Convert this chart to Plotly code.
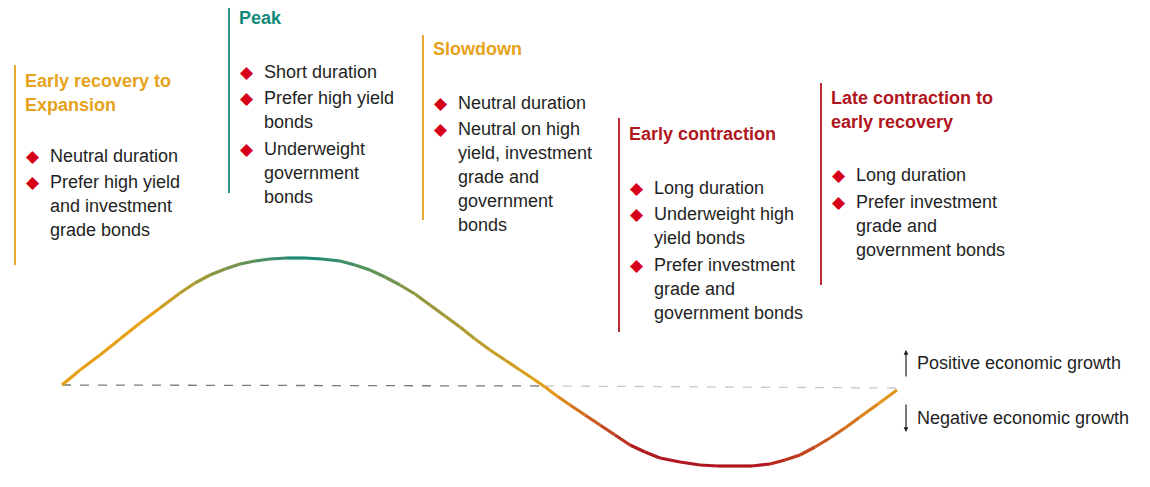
import plotly.graph_objects as go

ORANGE = "#E6A21A"
TEAL = "#11897A"
RED = "#B0161E"
DIAMOND = "#D7001A"
TXT = "#1F1F1F"

# curve (pixel coords)
curve_x = [62, 80, 100, 120, 140, 160, 180, 195, 210, 225, 240, 255, 270, 287, 305, 322, 340, 355, 370,
           385, 400, 415, 430, 445, 460, 475, 490, 505, 520, 532, 545,
           557, 570, 585, 600, 615, 630, 645, 660, 680, 700, 718, 735, 752, 770, 785, 800, 815, 830, 845, 860, 878, 897]
curve_y = [385, 370, 355, 339, 323, 308, 293, 283, 275, 269, 264, 261, 259, 258, 258, 259, 261, 265, 270,
           277, 285, 294, 305, 316, 327, 339, 350, 360, 370, 378, 387,
           396, 405, 415, 425, 435, 445, 452, 458, 462, 465, 466, 466, 466, 464, 460, 455, 447, 438, 428, 417, 404, 390]

# phase blocks
phases = [
    dict(title=["Early recovery to", "Expansion"], color=ORANGE, x=15, y0=65, y1=265, ty=[81, 105],
         bullets=[["Neutral duration"], ["Prefer high yield", "and investment", "grade bonds"]], by=[156, 182]),
    dict(title=["Peak"], color=TEAL, x=229, y0=5, y1=193, ty=[18],
         bullets=[["Short duration"], ["Prefer high yield", "bonds"], ["Underweight", "government", "bonds"]], by=[72, 98, 149]),
    dict(title=["Slowdown"], color=ORANGE, x=423, y0=35, y1=220, ty=[49],
         bullets=[["Neutral duration"], ["Neutral on high", "yield, investment", "grade and", "government", "bonds"]], by=[103, 129]),
    dict(title=["Early contraction"], color=RED, x=619, y0=118, y1=332, ty=[134],
         bullets=[["Long duration"], ["Underweight high", "yield bonds"], ["Prefer investment", "grade and", "government bonds"]], by=[188, 214, 265]),
    dict(title=["Late contraction to", "early recovery"], color=RED, x=821, y0=83, y1=285, ty=[98, 122],
         bullets=[["Long duration"], ["Prefer investment", "grade and", "government bonds"]], by=[175, 202]),
]

def hexmix(c1, c2, t):
    a = [int(c1[i:i+2], 16) for i in (1, 3, 5)]
    b = [int(c2[i:i+2], 16) for i in (1, 3, 5)]
    return "#%02x%02x%02x" % tuple(round(a[k] + (b[k] - a[k]) * t) for k in range(3))

def curve_color(x):
    stops = [(62, ORANGE), (150, ORANGE), (305, TEAL), (420, hexmix(TEAL, ORANGE, 0.6)), (545, ORANGE),
             (640, RED), (760, RED), (897, ORANGE)]
    for (xa, ca), (xb, cb) in zip(stops, stops[1:]):
        if xa <= x <= xb:
            return hexmix(ca, cb, (x - xa) / (xb - xa))
    return ORANGE

fig = go.Figure()
fig.add_trace(go.Scatter(x=[62, 545], y=[385, 386], mode="lines",
                         line=dict(color="#7a7a7a", width=1.3, dash="dash"), hoverinfo="skip"))
fig.add_trace(go.Scatter(x=[545, 897], y=[386, 388], mode="lines",
                         line=dict(color="#c8c8c8", width=1.3, dash="dash"), hoverinfo="skip"))
for i in range(len(curve_x) - 1):
    xm = (curve_x[i] + curve_x[i + 1]) / 2
    fig.add_trace(go.Scatter(x=curve_x[i:i + 2], y=curve_y[i:i + 2], mode="lines",
                             line=dict(color=curve_color(xm), width=3.2), hoverinfo="skip"))

ann = []
shapes = []
for p in phases:
    shapes.append(dict(type="line", x0=p["x"], x1=p["x"], y0=p["y0"], y1=p["y1"],
                       line=dict(color=p["color"], width=1.8)))
    for t, y in zip(p["title"], p["ty"]):
        ann.append(dict(x=p["x"] + 8, y=y, text="<b>" + t + "</b>", showarrow=False, xanchor="left",
                        yanchor="middle", font=dict(size=18, color=p["color"], family="Liberation Sans")))
    for lines, y in zip(p["bullets"], p["by"]):
        ann.append(dict(x=p["x"] + 9, y=y, text="◆", showarrow=False, xanchor="left", yanchor="middle",
                        font=dict(size=17, color=DIAMOND, family="DejaVu Sans")))
        for k, line in enumerate(lines):
            ann.append(dict(x=p["x"] + 33, y=y + k * 24, text=line, showarrow=False, xanchor="left",
                            yanchor="middle", font=dict(size=18, color=TXT, family="Liberation Sans")))

ann.append(dict(x=906, y=350, ax=906, ay=378, xref="x", yref="y", axref="x", ayref="y", text="",
                showarrow=True, arrowhead=2, arrowsize=0.8, arrowwidth=1.2, arrowcolor=TXT))
ann.append(dict(x=906, y=432, ax=906, ay=403, xref="x", yref="y", axref="x", ayref="y", text="",
                showarrow=True, arrowhead=2, arrowsize=0.8, arrowwidth=1.2, arrowcolor=TXT))
ann.append(dict(x=915, y=363, text="Positive economic growth", showarrow=False, xanchor="left",
                font=dict(size=18, color=TXT, family="Liberation Sans")))
ann.append(dict(x=915, y=418, text="Negative economic growth", showarrow=False, xanchor="left",
                font=dict(size=18, color=TXT, family="Liberation Sans")))

fig.update_layout(width=1150, height=487, margin=dict(l=0, r=0, t=0, b=0),
                  paper_bgcolor="white", plot_bgcolor="white", showlegend=False,
                  xaxis=dict(range=[8, 1158], visible=False, fixedrange=True),
                  yaxis=dict(range=[495, 8], visible=False, fixedrange=True),
                  annotations=ann, shapes=shapes)
fig.write_html("out.html", config={"displayModeBar": False})
